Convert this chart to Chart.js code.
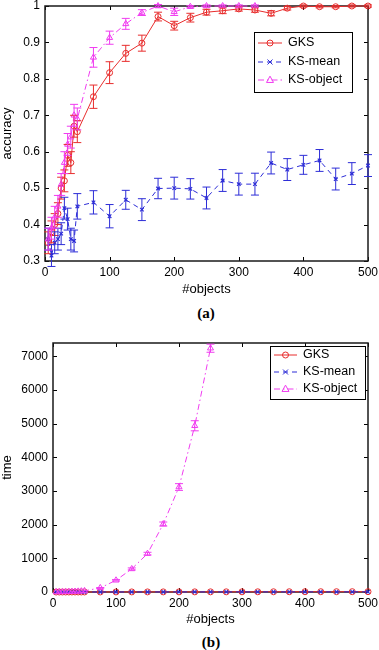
<!DOCTYPE html>
<html>
<head>
<meta charset="utf-8">
<script src="https://cdn.jsdelivr.net/npm/chart.js@4/dist/chart.umd.min.js"></script>
<style>
  body { margin:0; background:#fff; }
  #wrap { position:relative; width:379px; height:650px; overflow:hidden; background:#fff; }
  canvas { position:absolute; left:0; }
  .cap { position:absolute; font-family:"Liberation Serif","Times New Roman",serif; font-weight:bold; font-size:15px; line-height:18px; width:60px; text-align:center; color:#000; }
</style>
</head>
<body>
<div id="wrap">
  <canvas id="c1" width="379" height="300" style="top:0"></canvas>
  <div class="cap" style="left:176px; top:304px;">(a)</div>
  <canvas id="c2" width="379" height="300" style="top:330px"></canvas>
  <div class="cap" style="left:181px; top:633px;">(b)</div>
</div>
<script>
// ---------------- DATA ----------------
const objects = [5,10,15,20,25,30,35,40,45,50,75,100,125,150,175,200,225,250,275,300,325,350,375,400,425,450,475,500];
const xTicks = [0,100,200,300,400,500];
const accTicks = [0.3,0.4,0.5,0.6,0.7,0.8,0.9,1];
const timeTicks = [0,1000,2000,3000,4000,5000,6000,7000];

// (a) accuracy
const gksAcc      = [0.35,0.38,0.40,0.43,0.50,0.52,0.59,0.57,0.67,0.655,0.751,0.817,0.870,0.898,0.971,0.946,0.968,0.983,0.987,0.992,0.989,0.980,0.994,1.0,0.998,0.998,1.0,1.0];
const gksAccErr   = [0.03,0.03,0.03,0.03,0.03,0.03,0.03,0.03,0.03,0.03,0.032,0.03,0.022,0.022,0.012,0.012,0.012,0.008,0.008,0.006,0.006,0.007,0.005,0.003,0.003,0.003,0.003,0.003];
const meanAcc     = [0.36,0.315,0.35,0.36,0.375,0.445,0.415,0.36,0.355,0.45,0.461,0.423,0.468,0.441,0.499,0.50,0.498,0.473,0.521,0.511,0.511,0.569,0.551,0.564,0.576,0.525,0.540,0.562];
const meanAccErr  = [0.03,0.03,0.03,0.03,0.03,0.03,0.03,0.03,0.03,0.035,0.032,0.032,0.026,0.03,0.028,0.03,0.028,0.03,0.03,0.03,0.03,0.03,0.03,0.026,0.03,0.03,0.03,0.03];
const objAcc      = [0.36,0.39,0.42,0.45,0.51,0.57,0.62,0.64,0.70,0.69,0.859,0.913,0.951,0.982,1.0,0.984,0.998,1.0,1.0,1.0,1.0];
const objAccErr   = [0.03,0.03,0.03,0.03,0.03,0.03,0.03,0.03,0.03,0.03,0.027,0.018,0.015,0.008,0.004,0.01,0.003,0.003,0.003,0.003,0.003];

// (b) time
const gksTime     = [0.1,0.2,0.3,0.4,0.5,0.6,0.7,0.8,0.9,1,1.5,2,2.5,3,3.5,4,4.5,5,5.5,6,6.5,7,7.5,8,8.5,9,9.5,10];
const meanTime    = [0.05,0.1,0.15,0.2,0.25,0.3,0.35,0.4,0.45,0.5,0.8,1,1.3,1.5,1.8,2,2.3,2.5,2.8,3,3.3,3.5,3.8,4,4.3,4.5,4.8,5];
const objTime     = [1,2,3,5,7,10,14,19,25,33,122,348,686,1140,2020,3120,4940,7245];
const objTimeErr  = [0,0,0,0,0,0,0,0,0,0,10,20,30,40,60,100,150,120];

// ---------------- STYLES ----------------
const RED = 'rgb(232,45,45)';
const BLUE = 'rgb(45,45,215)';
const MAG = 'rgb(240,60,240)';
const FONT = '"Liberation Sans", Arial, Helvetica, sans-serif';

function pts(xs, ys) { return ys.map((v, i) => ({x: xs[i], y: v})); }

function makeSets(g, gE, m, mE, o, oE) {
  return [
    { label:'GKS', data: pts(objects, g), errors: gE, borderColor: RED, borderWidth: 1,
      backgroundColor:'rgba(0,0,0,0)', pointStyle:'circle', pointRadius:3, pointBorderWidth:1,
      pointBorderColor: RED, pointBackgroundColor:'rgba(0,0,0,0)', tension:0, clip:false, order:2 },
    { label:'KS-mean', data: pts(objects, m), errors: mE, borderColor: BLUE, borderWidth: 1, borderDash:[5,4],
      backgroundColor:'rgba(0,0,0,0)', pointStyle:'crossRot', pointRadius:2.5, pointBorderWidth:1.2,
      pointBorderColor: BLUE, pointBackgroundColor: BLUE, tension:0, clip:false, order:1 },
    { label:'KS-object', data: pts(objects, o), errors: oE, borderColor: MAG, borderWidth: 1, borderDash:[6,3,1.5,3],
      backgroundColor:'rgba(0,0,0,0)', pointStyle:'triangle', pointRadius:3.5, pointBorderWidth:1,
      pointBorderColor: MAG, pointBackgroundColor:'rgba(0,0,0,0)', tension:0, clip:false, order:0 }
  ];
}

// ---------------- PLUGINS ----------------
const errorBars = {
  id: 'errorBars',
  afterDatasetsDraw(chart) {
    const ctx = chart.ctx, xs = chart.scales.x, ys = chart.scales.y;
    chart.data.datasets.forEach(ds => {
      if (!ds.errors) return;
      ctx.save();
      ctx.strokeStyle = ds.borderColor;
      ctx.lineWidth = 1;
      ctx.setLineDash([]);
      ctx.beginPath();
      ds.data.forEach((p, j) => {
        const e = ds.errors[j];
        if (!e) return;
        const px = xs.getPixelForValue(p.x);
        const y1 = ys.getPixelForValue(p.y - e), y2 = ys.getPixelForValue(p.y + e);
        ctx.moveTo(px, y1); ctx.lineTo(px, y2);
        ctx.moveTo(px - 4, y1); ctx.lineTo(px + 4, y1);
        ctx.moveTo(px - 4, y2); ctx.lineTo(px + 4, y2);
      });
      ctx.stroke();
      ctx.restore();
    });
  }
};

const frame = {
  id: 'frame',
  beforeDatasetsDraw(chart) {
    const {ctx, chartArea: a, scales: {x, y}} = chart;
    ctx.save();
    ctx.strokeStyle = '#000';
    ctx.lineWidth = 1;
    ctx.beginPath();
    x.ticks.forEach(t => {
      const px = Math.round(x.getPixelForValue(t.value)) + 0.5;
      ctx.moveTo(px, a.bottom); ctx.lineTo(px, a.bottom - 4);
      ctx.moveTo(px, a.top); ctx.lineTo(px, a.top + 4);
    });
    y.ticks.forEach(t => {
      const py = Math.round(y.getPixelForValue(t.value)) + 0.5;
      ctx.moveTo(a.left, py); ctx.lineTo(a.left + 4, py);
      ctx.moveTo(a.right, py); ctx.lineTo(a.right - 4, py);
    });
    ctx.stroke();
    ctx.lineWidth = 1.5;
    ctx.strokeStyle = '#1a1a1a';
    ctx.strokeRect(a.left, a.top, a.right - a.left, a.bottom - a.top);
    ctx.restore();
  }
};

function drawMarker(ctx, style, x, y, r) {
  ctx.beginPath();
  if (style === 'circle') {
    ctx.arc(x, y, r, 0, Math.PI * 2);
  } else if (style === 'crossRot') {
    ctx.moveTo(x - r, y - r); ctx.lineTo(x + r, y + r);
    ctx.moveTo(x - r, y + r); ctx.lineTo(x + r, y - r);
  } else if (style === 'triangle') {
    ctx.moveTo(x, y - r * 1.1);
    ctx.lineTo(x + r, y + r * 0.7);
    ctx.lineTo(x - r, y + r * 0.7);
    ctx.closePath();
  }
  ctx.stroke();
}

const boxLegend = {
  id: 'boxLegend',
  afterDraw(chart, args, opts) {
    const ctx = chart.ctx;
    const [x1, y1, x2, y2] = opts.box;
    ctx.save();
    ctx.fillStyle = '#fff';
    ctx.fillRect(x1, y1, x2 - x1, y2 - y1);
    ctx.strokeStyle = '#000';
    ctx.lineWidth = 1;
    ctx.strokeRect(x1 + 0.5, y1 + 0.5, x2 - x1, y2 - y1);
    const sets = chart.data.datasets;
    sets.forEach((ds, i) => {
      const yy = opts.rows[i];
      ctx.strokeStyle = ds.borderColor;
      ctx.lineWidth = 1;
      ctx.setLineDash(ds.borderDash || []);
      ctx.beginPath();
      ctx.moveTo(opts.lineX[0], yy); ctx.lineTo(opts.lineX[1], yy);
      ctx.stroke();
      ctx.setLineDash([]);
      drawMarker(ctx, ds.pointStyle, (opts.lineX[0] + opts.lineX[1]) / 2, yy, ds.pointRadius);
      ctx.fillStyle = '#000';
      ctx.font = '12.5px ' + FONT;
      ctx.textBaseline = 'middle';
      ctx.textAlign = 'left';
      ctx.fillText(ds.label, opts.textX, yy);
    });
    ctx.restore();
  }
};

function baseOptions(cfg) {
  return {
    responsive: false,
    animation: false,
    devicePixelRatio: 1,
    layout: { autoPadding: false, padding: { top: cfg.padTop, right: cfg.padRight, left: 0, bottom: 0 } },
    plugins: {
      legend: { display: false },
      tooltip: { enabled: false },
      boxLegend: cfg.legend
    },
    scales: {
      x: {
        type: 'linear', min: 0, max: 500,
        afterBuildTicks(s) { s.ticks = xTicks.map(v => ({value: v})); },
        ticks: { padding: 4, color: '#000', font: { family: FONT, size: 12 }, maxRotation: 0, autoSkip: false,
                 callback: v => String(v) },
        grid: { display: false, drawTicks: false },
        border: { display: false },
        title: { display: true, text: '#objects', color: '#000', font: { family: FONT, size: 13 }, padding: { top: 0, bottom: 3 } },
        afterFit(s) { s.height = cfg.xHeight; s.paddingLeft = 0; s.paddingRight = 0; }
      },
      y: {
        type: 'linear', min: cfg.yMin, max: cfg.yMax,
        afterBuildTicks(s) { s.ticks = cfg.yTicks.map(v => ({value: v})); },
        ticks: { padding: 5, color: '#000', font: { family: FONT, size: 12 }, autoSkip: false,
                 callback: v => String(v) },
        grid: { display: false, drawTicks: false },
        border: { display: false },
        title: { display: true, text: cfg.yTitle, color: '#000', font: { family: FONT, size: 13 }, padding: { top: 0, bottom: 0 } },
        afterFit(s) { s.width = cfg.yWidth; s.paddingTop = 0; s.paddingBottom = 0; }
      }
    }
  };
}

new Chart(document.getElementById('c1'), {
  type: 'line',
  data: { datasets: makeSets(gksAcc, gksAccErr, meanAcc, meanAccErr, objAcc, objAccErr) },
  options: baseOptions({
    padTop: 6, padRight: 11, xHeight: 39, yWidth: 45,
    yMin: 0.3, yMax: 1, yTicks: accTicks, yTitle: 'accuracy',
    legend: { box: [254, 32, 352, 92], rows: [43, 62, 80], lineX: [258, 282], textX: 288 }
  }),
  plugins: [frame, errorBars, boxLegend]
});

new Chart(document.getElementById('c2'), {
  type: 'line',
  data: { datasets: makeSets(gksTime, null, meanTime, null, objTime, objTimeErr) },
  options: baseOptions({
    padTop: 13, padRight: 11, xHeight: 38, yWidth: 53,
    yMin: 0, yMax: 7400, yTicks: timeTicks, yTitle: 'time',
    legend: { box: [270, 16, 365, 69], rows: [25, 42, 59], lineX: [274, 297], textX: 303 }
  }),
  plugins: [frame, errorBars, boxLegend]
});
</script>
</body>
</html>
